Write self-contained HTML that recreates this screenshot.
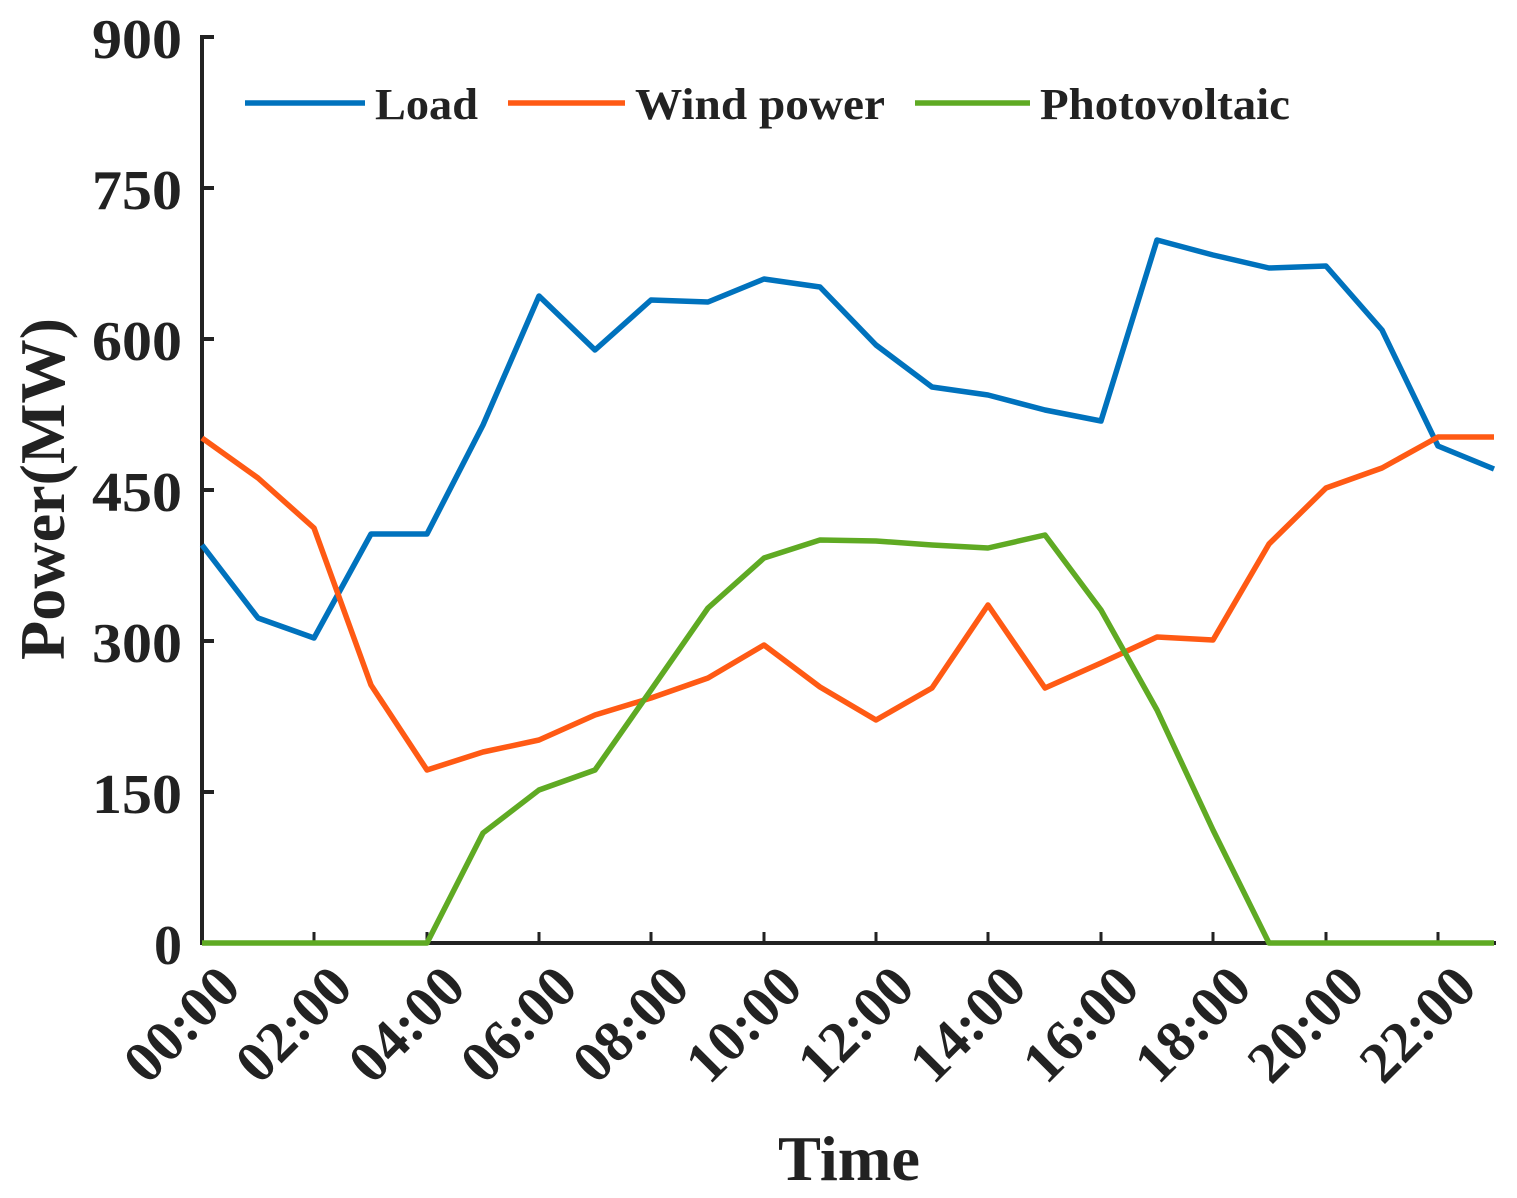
<!DOCTYPE html>
<html><head><style>body{margin:0;background:#fff}</style></head><body>
<svg width="1517" height="1193" xmlns="http://www.w3.org/2000/svg" font-family="Liberation Serif, serif" font-weight="bold">
<g stroke="#222" stroke-width="4" fill="none">
<line x1="202" y1="35" x2="202" y2="945"/>
<line x1="200" y1="943" x2="1496" y2="943"/>
<line x1="202" y1="37" x2="214" y2="37"/>
<line x1="202" y1="188" x2="214" y2="188"/>
<line x1="202" y1="339" x2="214" y2="339"/>
<line x1="202" y1="490" x2="214" y2="490"/>
<line x1="202" y1="641" x2="214" y2="641"/>
<line x1="202" y1="792" x2="214" y2="792"/>
</g>
<g stroke="#222" stroke-width="3">
<line x1="314" y1="943" x2="314" y2="932"/><line x1="427" y1="943" x2="427" y2="932"/><line x1="539" y1="943" x2="539" y2="932"/><line x1="651" y1="943" x2="651" y2="932"/><line x1="764" y1="943" x2="764" y2="932"/><line x1="876" y1="943" x2="876" y2="932"/><line x1="988" y1="943" x2="988" y2="932"/><line x1="1101" y1="943" x2="1101" y2="932"/><line x1="1213" y1="943" x2="1213" y2="932"/><line x1="1326" y1="943" x2="1326" y2="932"/><line x1="1438" y1="943" x2="1438" y2="932"/>
</g>
<g font-size="56" text-anchor="end" fill="#222">
<text x="182" y="58" textLength="90" lengthAdjust="spacingAndGlyphs">900</text><text x="182" y="209" textLength="90" lengthAdjust="spacingAndGlyphs">750</text><text x="182" y="360" textLength="90" lengthAdjust="spacingAndGlyphs">600</text><text x="182" y="511" textLength="90" lengthAdjust="spacingAndGlyphs">450</text><text x="182" y="662" textLength="90" lengthAdjust="spacingAndGlyphs">300</text><text x="182" y="813" textLength="90" lengthAdjust="spacingAndGlyphs">150</text><text x="182" y="964">0</text>
</g>
<g font-size="58" text-anchor="end" fill="#222">
<text transform="translate(243,990) rotate(-45)">00:00</text>
<text transform="translate(355,990) rotate(-45)">02:00</text>
<text transform="translate(468,990) rotate(-45)">04:00</text>
<text transform="translate(580,990) rotate(-45)">06:00</text>
<text transform="translate(692,990) rotate(-45)">08:00</text>
<text transform="translate(805,990) rotate(-45)">10:00</text>
<text transform="translate(917,990) rotate(-45)">12:00</text>
<text transform="translate(1029,990) rotate(-45)">14:00</text>
<text transform="translate(1142,990) rotate(-45)">16:00</text>
<text transform="translate(1254,990) rotate(-45)">18:00</text>
<text transform="translate(1367,990) rotate(-45)">20:00</text>
<text transform="translate(1479,990) rotate(-45)">22:00</text>
</g>
<text x="849" y="1180" font-size="64" text-anchor="middle" fill="#222" textLength="142" lengthAdjust="spacingAndGlyphs">Time</text>
<text transform="translate(64,489) rotate(-90)" font-size="64" text-anchor="middle" fill="#222" textLength="342" lengthAdjust="spacingAndGlyphs">Power(MW)</text>
<g fill="none" stroke-width="5.5" stroke-linejoin="round">
<polyline stroke="#0072BD" points="202,545 258,618 314,638 371,534 427,534 483,425 539,296 595,350 651,300 708,302 764,279 820,287 876,345 932,387 988,395 1045,410 1101,421 1157,240 1213,255 1269,268 1326,266 1382,330 1438,446 1494,469"/>
<polyline stroke="#FF5A14" points="202,438 258,478 314,528 371,685 427,770 483,752 539,740 595,715 651,698 708,678 764,645 820,687 876,720 932,688 988,605 1045,688 1101,663 1157,637 1213,640 1269,544 1326,488 1382,468 1438,437 1494,437"/>
<polyline stroke="#5FAA23" points="202,943 427,943 483,833 539,790 595,770 651,690 708,608 764,558 820,540 876,541 932,545 988,548 1045,535 1101,610 1157,710 1213,830 1269,943 1494,943"/>
<line stroke="#0072BD" x1="245" y1="103" x2="365" y2="103"/>
<line stroke="#FF5A14" x1="508" y1="103" x2="625" y2="103"/>
<line stroke="#5FAA23" x1="915" y1="103" x2="1030" y2="103"/>
</g>
<g font-size="44" fill="#222">
<text x="375" y="119" textLength="103" lengthAdjust="spacingAndGlyphs">Load</text><text x="635" y="119" textLength="250" lengthAdjust="spacingAndGlyphs">Wind power</text><text x="1040" y="119" textLength="250" lengthAdjust="spacingAndGlyphs">Photovoltaic</text>
</g>
</svg>
</body></html>
